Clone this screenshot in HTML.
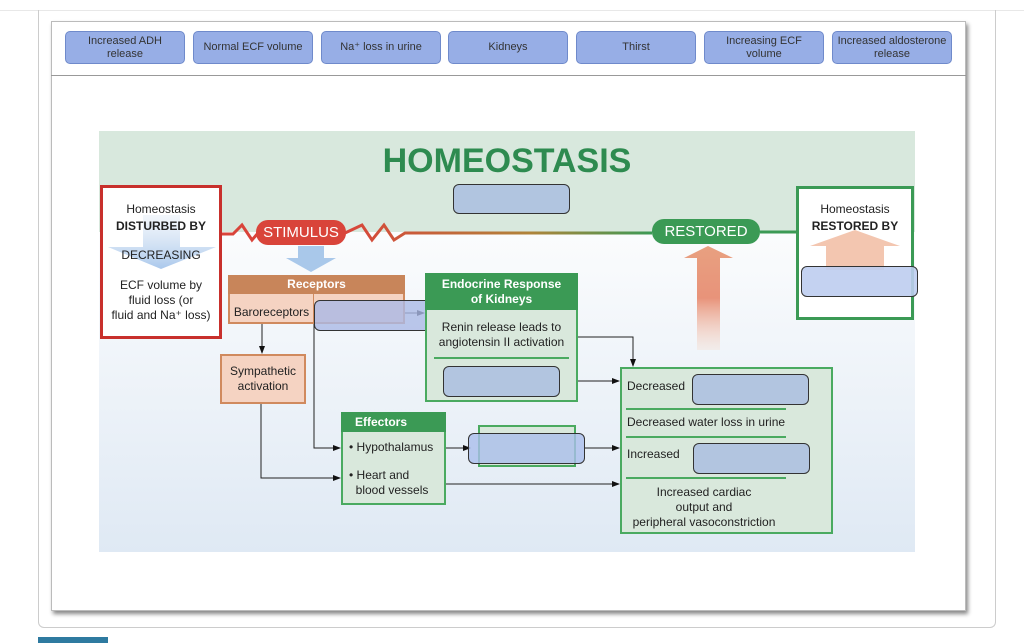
<!DOCTYPE html>
<html><head><meta charset="utf-8"><style>
*{margin:0;padding:0;box-sizing:border-box}
body{width:1024px;height:643px;background:#fff;position:relative;overflow:hidden;font-family:"Liberation Sans",sans-serif}
.a{position:absolute}
.chip{position:absolute;top:31px;height:33px;width:120px;background:#97aee6;border:1px solid #6f8acb;border-radius:5px;font-size:11px;color:#333;display:flex;align-items:center;justify-content:center;text-align:center;line-height:13px}
.blank{position:absolute;background:rgba(170,190,225,0.85);border:1px solid #333;border-radius:6px}
.t{position:absolute;font-size:12px;color:#222;text-align:center;line-height:15px}
</style></head><body>
<div class="a" style="left:0;top:10px;width:1024px;height:1px;background:#e8e8e8"></div>
<div class="a" style="left:38px;top:10px;width:958px;height:618px;border:1px solid #ccc;border-top:none;border-radius:0 0 6px 6px"></div>
<div class="a" style="left:51px;top:21px;width:915px;height:590px;border:1px solid #bbb;box-shadow:2px 3px 4px #888;background:#fff"></div>
<div class="a" style="left:51px;top:75px;width:915px;height:1px;background:#999"></div>
<div class="a" style="left:38px;top:637px;width:70px;height:6px;background:#2e7aa0"></div>

<div class="chip" style="left:65px">Increased ADH<br>release</div>
<div class="chip" style="left:193px">Normal ECF volume</div>
<div class="chip" style="left:321px">Na⁺ loss in urine</div>
<div class="chip" style="left:448px">Kidneys</div>
<div class="chip" style="left:576px">Thirst</div>
<div class="chip" style="left:704px">Increasing ECF<br>volume</div>
<div class="chip" style="left:832px">Increased aldosterone<br>release</div>

<div class="a" style="left:99px;top:131px;width:816px;height:101px;background:#d8e8dd"></div>
<div class="a" style="left:99px;top:232px;width:816px;height:320px;background:linear-gradient(#fbfcfd,#dfe9f4)"></div>
<div class="a" style="left:99px;top:142px;width:816px;text-align:center;font-size:34px;font-weight:bold;color:#2e8b50">HOMEOSTASIS</div>

<svg class="a" style="left:0;top:0" width="1024" height="643">
<defs>
<linearGradient id="lg" x1="0" x2="1"><stop offset="0" stop-color="#d9443a"/><stop offset="0.6" stop-color="#b0843a"/><stop offset="1" stop-color="#3b9a55"/></linearGradient>
<linearGradient id="og" x1="0" y1="1" x2="0" y2="0"><stop offset="0" stop-color="#f6d8c8" stop-opacity="0.3"/><stop offset="0.5" stop-color="#e8937a"/><stop offset="1" stop-color="#e8a080"/></linearGradient>
<marker id="ar" markerWidth="8" markerHeight="8" refX="7" refY="4" orient="auto"><path d="M0,1 L8,4 L0,7z" fill="#111"/></marker>
</defs>
<polyline points="221,234 233,234 242,225 252,240 258,233" fill="none" stroke="#d9443a" stroke-width="3"/>
<polyline points="345,233 362,225 372,240 384,225 394,240 405,233 652,233" fill="none" stroke="url(#lg)" stroke-width="3"/>
<line x1="760" y1="232" x2="797" y2="232" stroke="#3b9a55" stroke-width="3"/>
<path d="M298,246 H324 V258 H336 L311,272 L286,258 H298Z" fill="#a9c8ea"/>
<path d="M697,350 V258 H684 L708,246 L733,258 H720 V350Z" fill="url(#og)"/>
<g stroke="#222" stroke-width="1" fill="none">
<line x1="262" y1="323" x2="262" y2="353" marker-end="url(#ar)"/>
<polyline points="261,403 261,478 340,478" marker-end="url(#ar)"/>
<polyline points="314,323 314,448 340,448" marker-end="url(#ar)"/>
<line x1="404" y1="313" x2="424" y2="313" marker-end="url(#ar)"/>
<polyline points="577,337 633,337 633,366" marker-end="url(#ar)"/>
<line x1="577" y1="381" x2="619" y2="381" marker-end="url(#ar)"/>
<line x1="445" y1="448" x2="470" y2="448" marker-end="url(#ar)"/>
<line x1="585" y1="448" x2="619" y2="448" marker-end="url(#ar)"/>
<line x1="445" y1="484" x2="619" y2="484" marker-end="url(#ar)"/>
</g>
</svg>

<div class="a" style="left:100px;top:185px;width:122px;height:154px;border:3px solid #c8302c;background:#fff"></div>
<svg class="a" style="left:100px;top:185px" width="122" height="154"><defs><linearGradient id="bg" x1="0" y1="0" x2="0" y2="1"><stop offset="0" stop-color="#d5e3f3" stop-opacity="0.3"/><stop offset="1" stop-color="#aac8ec"/></linearGradient></defs><path d="M43,30 H80 V62 H116 L61,84 L8,62 H43Z" fill="url(#bg)"/></svg>
<div class="t" style="left:100px;top:202px;width:122px">Homeostasis</div>
<div class="t" style="left:100px;top:219px;width:122px;font-weight:bold">DISTURBED BY</div>
<div class="t" style="left:100px;top:248px;width:122px">DECREASING</div>
<div class="t" style="left:100px;top:278px;width:122px">ECF volume by<br>fluid loss (or<br>fluid and Na⁺ loss)</div>

<div class="a" style="left:256px;top:220px;width:90px;height:25px;border-radius:12px;background:#d9443a;color:#fff;font-size:15px;text-align:center;line-height:25px">STIMULUS</div>
<div class="a" style="left:652px;top:219px;width:108px;height:25px;border-radius:12px;background:#3b9a55;color:#fff;font-size:15px;text-align:center;line-height:25px">RESTORED</div>

<div class="a" style="left:796px;top:186px;width:118px;height:134px;border:3px solid #3b9a55;background:#fff"></div>
<svg class="a" style="left:810px;top:230px" width="90" height="40"><path d="M16,40 V16 H0 L45,0 L90,16 H74 V40Z" fill="#f3c6b0"/></svg>
<div class="t" style="left:796px;top:202px;width:118px">Homeostasis</div>
<div class="t" style="left:796px;top:219px;width:118px;font-weight:bold">RESTORED BY</div>
<div class="blank" style="left:801px;top:266px;width:117px;height:31px;background:rgba(190,205,240,0.9)"></div>

<div class="blank" style="left:453px;top:184px;width:117px;height:30px"></div>

<div class="a" style="left:228px;top:275px;width:177px;height:49px;border:2px solid #d08a5e;background:#f5d3c2"></div>
<div class="a" style="left:228px;top:275px;width:177px;height:19px;background:#c8855a;color:#fff;font-size:12px;font-weight:bold;text-align:center;line-height:19px">Receptors</div>
<div class="a" style="left:313px;top:294px;width:1px;height:29px;background:#d08a5e"></div>
<div class="t" style="left:230px;top:305px;width:83px">Baroreceptors</div>
<div class="blank" style="left:314px;top:300px;width:117px;height:31px;background:rgba(170,185,230,0.8)"></div>

<div class="a" style="left:425px;top:273px;width:153px;height:129px;border:2px solid #4aaa60;background:#d9e8dc"></div>
<div class="a" style="left:425px;top:273px;width:153px;height:37px;background:#3b9a55;color:#fff;font-size:12px;font-weight:bold;text-align:center;line-height:15px;padding-top:4px">Endocrine Response<br>of Kidneys</div>
<div class="t" style="left:425px;top:320px;width:153px">Renin release leads to<br>angiotensin II activation</div>
<div class="a" style="left:434px;top:357px;width:135px;height:2px;background:#4aaa60"></div>
<div class="blank" style="left:443px;top:366px;width:117px;height:31px"></div>

<div class="a" style="left:220px;top:354px;width:86px;height:50px;border:2px solid #d08a5e;background:#f5d3c2"></div>
<div class="t" style="left:220px;top:364px;width:86px">Sympathetic<br>activation</div>

<div class="a" style="left:341px;top:412px;width:105px;height:93px;border:2px solid #4aaa60;background:#d9e8dc"></div>
<div class="a" style="left:341px;top:412px;width:105px;height:20px;background:#3b9a55;color:#fff;font-size:12px;font-weight:bold;line-height:20px;padding-left:14px">Effectors</div>
<div class="t" style="left:349px;top:440px;text-align:left">• Hypothalamus</div>
<div class="t" style="left:349px;top:468px;text-align:left">• Heart and<br>&nbsp;&nbsp;blood vessels</div>

<div class="a" style="left:478px;top:425px;width:98px;height:42px;border:2px solid #4aaa60;background:#d9e8dc"></div>
<div class="blank" style="left:468px;top:433px;width:117px;height:31px;background:rgba(170,190,235,0.8)"></div>

<div class="a" style="left:620px;top:367px;width:213px;height:167px;border:2px solid #4aaa60;background:#d9e8dc"></div>
<div class="t" style="left:627px;top:379px;text-align:left">Decreased</div>
<div class="blank" style="left:692px;top:374px;width:117px;height:31px"></div>
<div class="a" style="left:626px;top:408px;width:160px;height:2px;background:#4aaa60"></div>
<div class="t" style="left:627px;top:415px;text-align:left">Decreased water loss in urine</div>
<div class="a" style="left:626px;top:436px;width:160px;height:2px;background:#4aaa60"></div>
<div class="t" style="left:627px;top:447px;text-align:left">Increased</div>
<div class="blank" style="left:693px;top:443px;width:117px;height:31px"></div>
<div class="a" style="left:626px;top:477px;width:160px;height:2px;background:#4aaa60"></div>
<div class="t" style="left:624px;top:485px;width:160px">Increased cardiac<br>output and<br>peripheral vasoconstriction</div>
</body></html>
